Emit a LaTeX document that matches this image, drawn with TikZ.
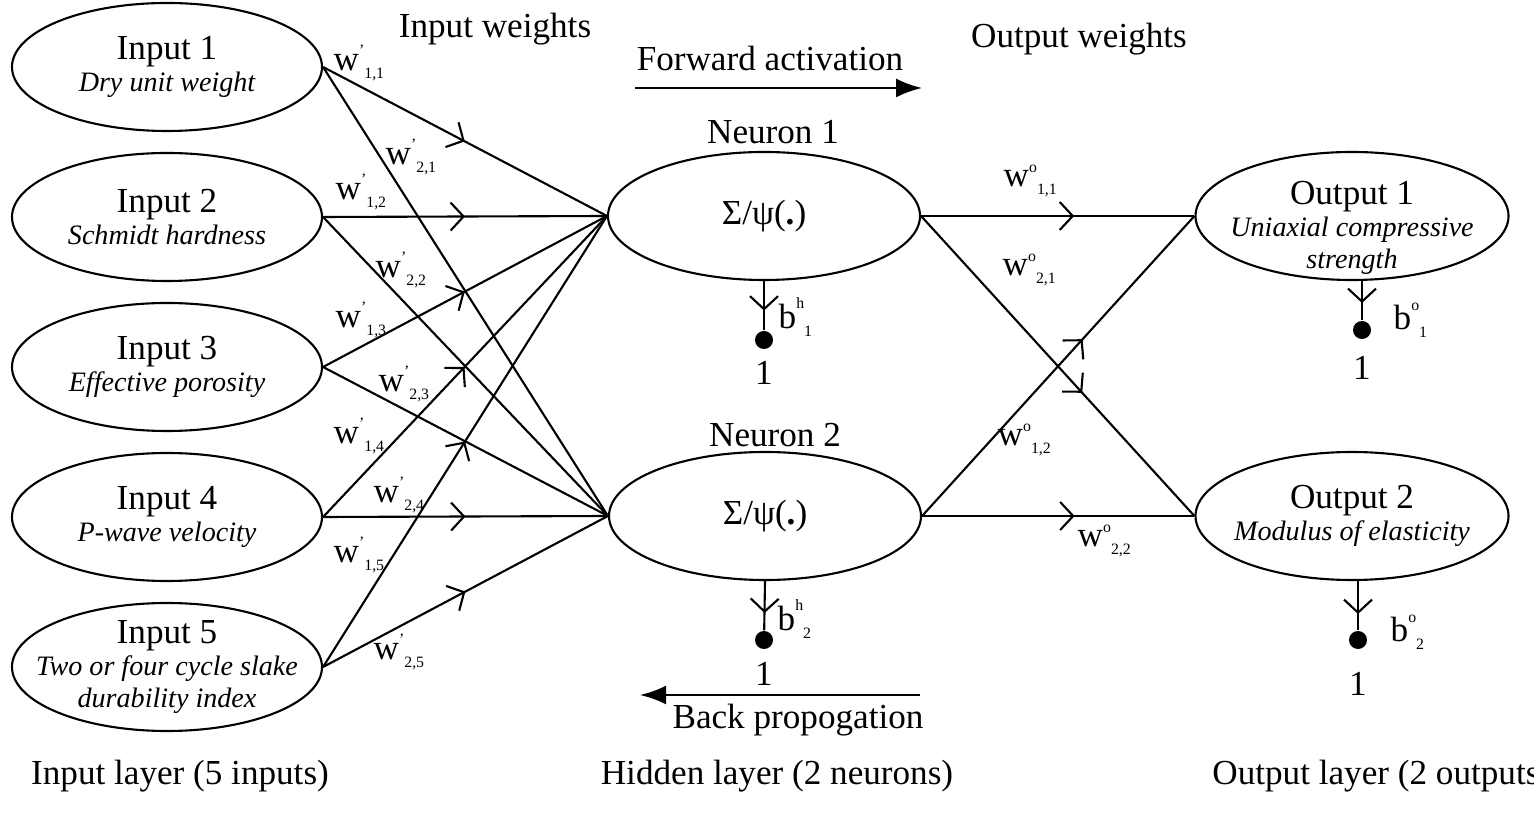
\documentclass[tikz,border=0pt]{standalone}
\usepackage{fontspec}
\setmainfont{Liberation Serif}
\usetikzlibrary{shapes.geometric,arrows.meta,positioning,decorations.markings}

\newcommand{\descr}[1]{{\fontsize{8}{9}\selectfont\itshape #1}}
\newcommand{\tinyfont}{\fontsize{4.5}{5}\selectfont}
\newcommand{\wgt}[2]{w\raisebox{0.9ex}{\tinyfont #1}\raisebox{-0.5ex}{\tinyfont #2}}
\newcommand{\bias}[2]{b\raisebox{1.2ex}{\tinyfont #1}\raisebox{-0.5ex}{\tinyfont #2}}

\begin{document}
\begin{tikzpicture}[
    neuron/.style={draw, ellipse, line width=0.6pt, minimum width=3.1cm, minimum height=1.28cm, inner xsep=-0.6cm, inner ysep=-0.35cm, align=center, font=\fontsize{10}{9}\selectfont},
    link/.style={line width=0.6pt},
    midarrow/.style={postaction={decorate}, decoration={markings, mark=at position #1 with {\arrow{Straight Barb[length=1.3mm,width=2.8mm]}}}},
    midarrow/.default=0.5,
    flow/.style={-{Latex[length=2.6mm,width=1.9mm]}, line width=0.7pt},
    txt/.style={font=\fontsize{10}{12}\selectfont},
    wlabel/.style={font=\fontsize{10}{12}\selectfont, anchor=west, inner sep=0pt},
    biasdot/.style={circle, fill, inner sep=0pt, minimum size=1.8mm},
    one/.style={font=\fontsize{10}{12}\selectfont, inner sep=0pt},
]
\useasboundingbox (0,0) rectangle (15.34,8.2);

% Headings
\node[txt] (tinw) at (4.95, 7.91) {Input weights};
\node[txt] (tfwd) at (7.70, 7.62) {Forward activation};
\node[txt] (toutw) at (10.79, 7.81) {Output weights};
\coordinate (fwd0) at (6.35, 7.32);
\coordinate (fwd1) at (9.22, 7.32);
\draw[flow] (fwd0) -- (fwd1);

% Input layer
\node[neuron] (in1) at (1.67, 7.53) {Input 1\\\descr{Dry unit weight}};
\node[neuron] (in2) at (1.67, 6.03) {Input 2\\\descr{Schmidt hardness}};
\node[neuron] (in3) at (1.67, 4.53) {Input 3\\\descr{Effective porosity}};
\node[neuron] (in4) at (1.67, 3.03) {Input 4\\\descr{P-wave velocity}};
\node[neuron] (in5) at (1.67, 1.53) {Input 5\\\descr{Two or four cycle slake}\\\descr{durability index}};

% Hidden layer
\node[txt] (tn1) at (7.73, 6.88) {Neuron 1};
\node[txt] (tn2) at (7.75, 3.85) {Neuron 2};
\node[neuron, minimum width=3.12cm] (n1) at (7.64, 6.04) {Σ/ψ(\textbf{.})};
\node[neuron, minimum width=3.12cm] (n2) at (7.65, 3.04) {Σ/ψ(\textbf{.})};

% Output layer
\node[neuron, minimum width=3.13cm] (o1) at (13.52, 6.04) {\rule{0pt}{0.47cm}Output 1\\\descr{Uniaxial compressive}\\\descr{strength}};
\node[neuron, minimum width=3.13cm] (o2) at (13.52, 3.04) {Output 2\\\descr{Modulus of elasticity}};

% Input weights
\draw[link, midarrow] (in1.east) -- (n1.west);
\draw[link, midarrow] (in2.east) -- (n1.west);
\draw[link, midarrow] (in3.east) -- (n1.west);
\draw[link, midarrow] (in4.east) -- (n1.west);
\draw[link, midarrow] (in5.east) -- (n1.west);
\draw[link] (in1.east) -- (n2.west);
\draw[link] (in2.east) -- (n2.west);
\draw[link] (in3.east) -- (n2.west);
\draw[link, midarrow] (in4.east) -- (n2.west);
\draw[link, midarrow] (in5.east) -- (n2.west);

\node[wlabel] (w11) at (3.33, 7.57) {\wgt{'}{1,1}};
\node[wlabel] (w21) at (3.85, 6.63) {\wgt{'}{2,1}};
\node[wlabel] (w12) at (3.35, 6.28) {\wgt{'}{1,2}};
\node[wlabel] (w22) at (3.75, 5.50) {\wgt{'}{2,2}};
\node[wlabel] (w13) at (3.35, 5.00) {\wgt{'}{1,3}};
\node[wlabel] (w23) at (3.78, 4.36) {\wgt{'}{2,3}};
\node[wlabel] (w14) at (3.33, 3.84) {\wgt{'}{1,4}};
\node[wlabel] (w24) at (3.73, 3.25) {\wgt{'}{2,4}};
\node[wlabel] (w15) at (3.33, 2.65) {\wgt{'}{1,5}};
\node[wlabel] (w25) at (3.73, 1.68) {\wgt{'}{2,5}};

% Output weights
\draw[link, midarrow=0.56] (n1.east) -- (o1.west);
\draw[link, midarrow=0.59] (n1.east) -- (o2.west);
\draw[link, midarrow=0.59] (n2.east) -- (o1.west);
\draw[link, midarrow=0.56] (n2.east) -- (o2.west);

\node[wlabel] (wo11) at (10.03, 6.39) {\wgt{o}{1,1}};
\node[wlabel] (wo21) at (10.02, 5.50) {\wgt{o}{2,1}};
\node[wlabel] (wo12) at (9.97, 3.80) {\wgt{o}{1,2}};
\node[wlabel] (wo22) at (10.77, 2.79) {\wgt{o}{2,2}};

% Biases
\node[biasdot] (dh1) at (7.64, 4.80) {};
\node[biasdot] (dh2) at (7.64, 1.80) {};
\node[biasdot] (do1) at (13.62, 4.90) {};
\node[biasdot] (do2) at (13.58, 1.80) {};
\draw[link, midarrow=0.6] (n1.south) -- (dh1);
\draw[link, midarrow=0.65] (n2.south) -- (dh2);
\draw[link, midarrow=0.56] (o1.south -| do1) -- (do1);
\draw[link, midarrow=0.67] (o2.south -| do2) -- (do2);
\node[one] (oneh1) [below=0.11cm of dh1] {1};
\node[one] (oneh2) [below=0.12cm of dh2] {1};
\node[one] (oneo1) [below=0.16cm of do1] {1};
\node[one] (oneo2) [below=0.22cm of do2] {1};
\node[wlabel] (bh1) at (7.78, 5.03) {\bias{h}{1}};
\node[wlabel] (bh2) at (7.77, 2.01) {\bias{h}{2}};
\node[wlabel] (bo1) at (13.93, 5.00) {\bias{o}{1}};
\node[wlabel] (bo2) at (13.90, 1.88) {\bias{o}{2}};

% Back propogation
\coordinate (back0) at (9.20, 1.25);
\coordinate (back1) at (6.40, 1.25);
\draw[flow] (back0) -- (back1);
\node[txt] (tback) at (7.98, 1.00) {Back propogation};

% Layer captions
\node[txt] (tinl) at (1.80, 0.44) {Input layer (5 inputs)};
\node[txt] (thidl) at (7.77, 0.44) {Hidden layer (2 neurons)};
\node[txt, anchor=west] (toutl) at (12.00, 0.44) {Output layer (2 outputs};

\end{tikzpicture}
\end{document}
